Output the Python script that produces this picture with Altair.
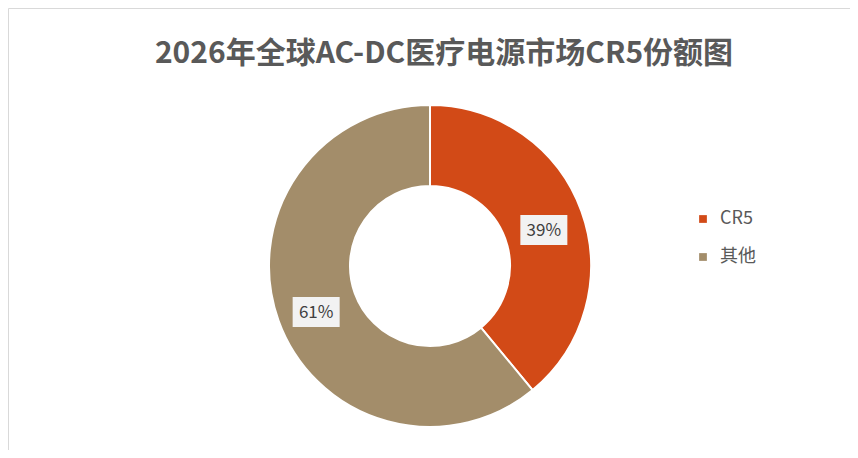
import altair as alt
import pandas as pd

categories = ["CR5", "其他"]
shares = [39, 61]
labels = ["39%", "61%"]
colors = ["#D24A17", "#A38D6A"]
title_text = "2026年全球AC-DC医疗电源市场CR5份额图"

df = pd.DataFrame({"类别": categories, "份额": shares, "标签": labels, "序": [0, 1]})

W, H = 842, 442
CX, CY = 422, 258
R_OUT, R_IN = 161, 80
R_LAB = 121

base = alt.Chart(df)

color_enc = alt.Color(
    "类别:N",
    scale=alt.Scale(domain=categories, range=colors),
    legend=alt.Legend(
        title=None,
        orient="none",
        legendX=686,
        legendY=202,
        symbolType="square",
        symbolSize=60,
        symbolStrokeWidth=0,
        labelFontSize=18,
        labelColor="#595959",
        labelFont="Noto Sans CJK SC",
        rowPadding=20,
        labelOffset=8,
    ),
)

arcs = base.mark_arc(
    outerRadius=R_OUT, innerRadius=R_IN, stroke="white", strokeWidth=2
).encode(
    theta=alt.Theta("份额:Q", stack=True),
    color=color_enc,
    order=alt.Order("序:Q"),
    x=alt.value(CX),
    y=alt.value(CY),
)

pos = base.transform_joinaggregate(total="sum(份额)").transform_window(
    cum="sum(份额)", sort=[alt.SortField("序")]
).transform_calculate(
    mid="(datum.cum - datum['份额']/2) / datum.total * 2 * PI",
).transform_calculate(
    lx=f"{CX} + {R_LAB} * sin(datum.mid)",
    ly=f"{CY} - {R_LAB} * cos(datum.mid) + 5",
)

boxes = pos.mark_rect(color="#F2F2F2", width=47, height=30).encode(
    x=alt.X("lx:Q", scale=None),
    y=alt.Y("ly:Q", scale=None),
)

texts = pos.mark_text(
    fontSize=17, color="#404040", font="Noto Sans CJK SC", baseline="middle", align="center", dy=1
).encode(
    x=alt.X("lx:Q", scale=None),
    y=alt.Y("ly:Q", scale=None),
    text="标签:N",
)

chart = alt.layer(arcs, boxes, texts).properties(
    width=W,
    height=H,
    autosize=alt.AutoSizeParams(type="none"),
    padding=0,
    title=alt.TitleParams(
        title_text,
        fontSize=30,
        font="Noto Sans CJK SC",
        fontWeight="bold",
        color="#595959",
        anchor="middle",
        orient="top",
        baseline="middle",
        offset=0,
        dy=76,
        dx=15,
    ),
).configure_view(stroke="#D9D9D9", strokeWidth=1)

chart.save("out.html", embed_options={"renderer": "svg", "actions": False})
